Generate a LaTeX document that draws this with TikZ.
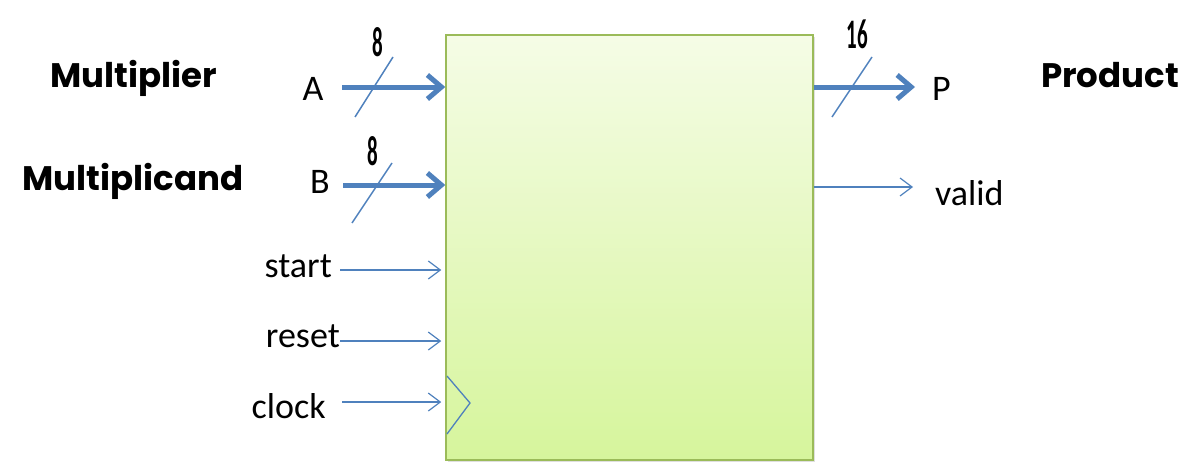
\documentclass[tikz,border=0pt]{standalone}
\usepackage{fontspec}
\setmainfont{Carlito}
\newfontfamily\boldgeo{Poppins}[UprightFont=* Bold]
\usetikzlibrary{arrows.meta,shadows}
\definecolor{wireblue}{HTML}{4F81BD}
\definecolor{boxedge}{HTML}{9BBB59}
\definecolor{boxtop}{HTML}{F5FCE6}
\definecolor{boxbot}{HTML}{D6F59C}
\tikzset{
  bus/.style={wireblue, line width=5pt, -{Straight Barb[length=14pt,width=24pt]}},
  wire/.style={wireblue, line width=1.2pt, -{Straight Barb[length=12pt,width=18pt]}},
  slash/.style={wireblue, line width=1.5pt},
  sig/.style={font=\fontsize{36}{36}\selectfont, inner sep=0pt},
  title/.style={font=\boldgeo\fontsize{34}{34}\selectfont, inner sep=0pt},
  width/.style={font=\bfseries\fontsize{42}{42}\selectfont, inner sep=0pt}
}
\newcommand{\segnum}[1]{\scalebox{0.5}[1]{#1}}
\begin{document}
\begin{tikzpicture}[x=1pt,y=-1pt]
\useasboundingbox (0,0) rectangle (1202,471);
\node[draw=boxedge, line width=1.5pt, top color=boxtop, bottom color=boxbot,
  minimum width=367pt, minimum height=425pt, inner sep=0pt,
  drop shadow={opacity=0.25, shadow xshift=2pt, shadow yshift=-2pt}] (box) at (629.5,247.5) {};
% titles
\node[title, anchor=base] (tmul) at (134,87) {Multiplier};
\node[title, anchor=base] (tmcd) at (133,190) {Multiplicand};
\node[title, anchor=base] (tprod) at (1110,87) {Product};
% signal labels
\node[sig, anchor=base] (lA) at (313,100) {A};
\node[sig, anchor=base] (lB) at (320,193) {B};
\node[sig, anchor=base east] (lstart) at (332,277) {start};
\node[sig, anchor=base east] (lreset) at (340,347) {reset};
\node[sig, anchor=base east] (lclock) at (326,418) {clock};
\node[sig, anchor=base west] (lP) at (932,100) {P};
\node[sig, anchor=base west] (lvalid) at (935,205) {valid};
% wires
\coordinate (aS) at (342,87);
\coordinate (bS) at (343,185);
\coordinate (sS) at (340,270);
\coordinate (rS) at (340,341);
\coordinate (cS) at (342,402);
\coordinate (pE) at (915,87);
\coordinate (vE) at (913,187);
\draw[bus] (aS) -- (aS -| box.west);
\draw[bus] (bS) -- (bS -| box.west);
\draw[wire] (sS) -- ([xshift=-4pt]sS -| box.west);
\draw[wire] (rS) -- ([xshift=-4pt]rS -| box.west);
\draw[wire] (cS) -- ([xshift=-4pt]cS -| box.west);
\draw[bus] (pE -| box.east) -- (pE);
\draw[wire] (vE -| box.east) -- (vE);
% bus width slashes
\coordinate (a1) at (355,117); \coordinate (a2) at (393,57);
\coordinate (b1) at (352,223); \coordinate (b2) at (392,163);
\coordinate (p1) at (832,117); \coordinate (p2) at (872,57);
\draw[slash] (a1) -- (a2);
\draw[slash] (b1) -- (b2);
\draw[slash] (p1) -- (p2);
\node[width, anchor=base] (wA) at (378,56) {\segnum{8}};
\node[width, anchor=base] (wB) at (373,165) {\segnum{8}};
\node[width, anchor=base] (wP) at (857,48) {\segnum{16}};
% clock triangle
\coordinate (k1) at (447,376); \coordinate (k2) at (470,403); \coordinate (k3) at (447,434);
\draw[wireblue, line width=1.3pt] (k1) -- (k2) -- (k3);
\end{tikzpicture}
\end{document}
